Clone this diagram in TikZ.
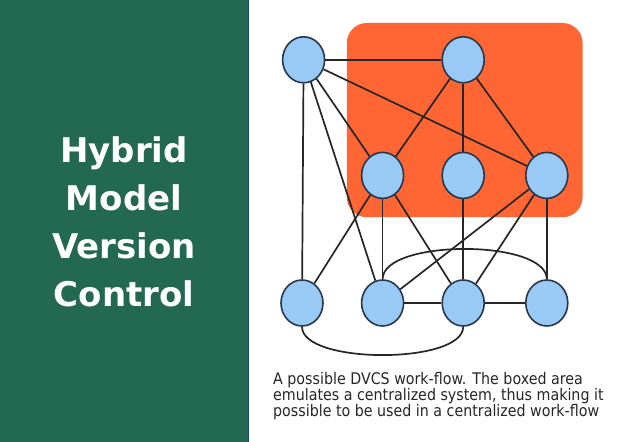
\documentclass[tikz,border=0pt]{standalone}
\usepackage{fontspec}
\setmainfont{DejaVu Sans}
\newfontfamily\capfont[FakeStretch=0.89]{DejaVu Sans}
\usetikzlibrary{
    shapes.geometric,
    backgrounds,
    positioning,
    fit
}
\definecolor{panelgreen}{RGB}{35,104,80}
\definecolor{boxorange}{RGB}{255,102,51}
\definecolor{peerblue}{RGB}{153,202,245}
\definecolor{peerline}{RGB}{40,55,75}
\tikzstyle{peer} = [ellipse, draw=peerline, fill=peerblue, line width=1.6pt, minimum width=42pt, minimum height=46pt, inner sep=0]
\tikzstyle{link} = [draw=black!85, line width=1.7pt]
\tikzstyle{backfill} = [fill=boxorange, rounded corners=20pt, inner xsep=14pt, inner ysep=15.5pt, yshift=-2.5pt]
\tikzstyle{archabove} = [out=90, in=90, looseness=0.63]
\tikzstyle{archbelow} = [out=-90, in=-90, looseness=0.6]
\tikzstyle{title} = [text=white, align=center, inner sep=0, font=\bfseries\fontsize{34}{48}\selectfont]
\tikzstyle{caption} = [text=black!85, align=left, inner sep=0, font=\capfont\fontsize{16}{16}\selectfont]

\begin{document}
\begin{tikzpicture}[x=1pt, y=1pt, node distance=37pt]
    \useasboundingbox (0,0) rectangle (638,442);
    \fill[panelgreen] (0,0) rectangle (249,442);
    \draw[panelgreen!70!blue, line width=1pt] (248.5,0) -- (248.5,442);

    \node[title] (title) at (124,220) {Hybrid\\Model\\Version\\Control};

    % bottom row of peers
    \node[peer] (D1) at (302,139) {};
    \node[peer] (D2) [right=of D1] {};
    \node[peer] (D3) [right=of D2] {};
    \node[peer] (D4) [right=40pt of D3] {};

    % middle row, inside the box
    \node[peer] (C1) [above=80pt of D2] {};
    \node[peer] (C2) [above=80pt of D3] {};
    \node[peer] (C3) [above=80pt of D4] {};

    % top row
    \node[peer] (B) [above=68pt of C2] {};
    \node[peer] (A) [left=116pt of B] {};

    \foreach \from / \to in {A/B, A/C1, A/C3, A/D1, A/D2, B/C1, B/C2, B/C3, C1/D1, C1/D2, C1/D3, C2/D3, C3/D2, C3/D3, C3/D4, D2/D3, D3/D4}{
    \draw[link] (\from) -- (\to);
    }

    \draw[link] (D2.north) to [archabove] (D4.north);
    \draw[link] (D1.south) to [archbelow] (D3.south);

    \node[caption, anchor=north west] (cap) at (273,70) {A possible DVCS work-flow. The boxed area\\emulates a centralized system, thus making it\\possible to be used in a centralized work-flow};

    \begin{pgfonlayer}{background}
        \node [backfill, fit= (B) (C1) (C3)] (central) {};
    \end{pgfonlayer}
\end{tikzpicture}
\end{document}
